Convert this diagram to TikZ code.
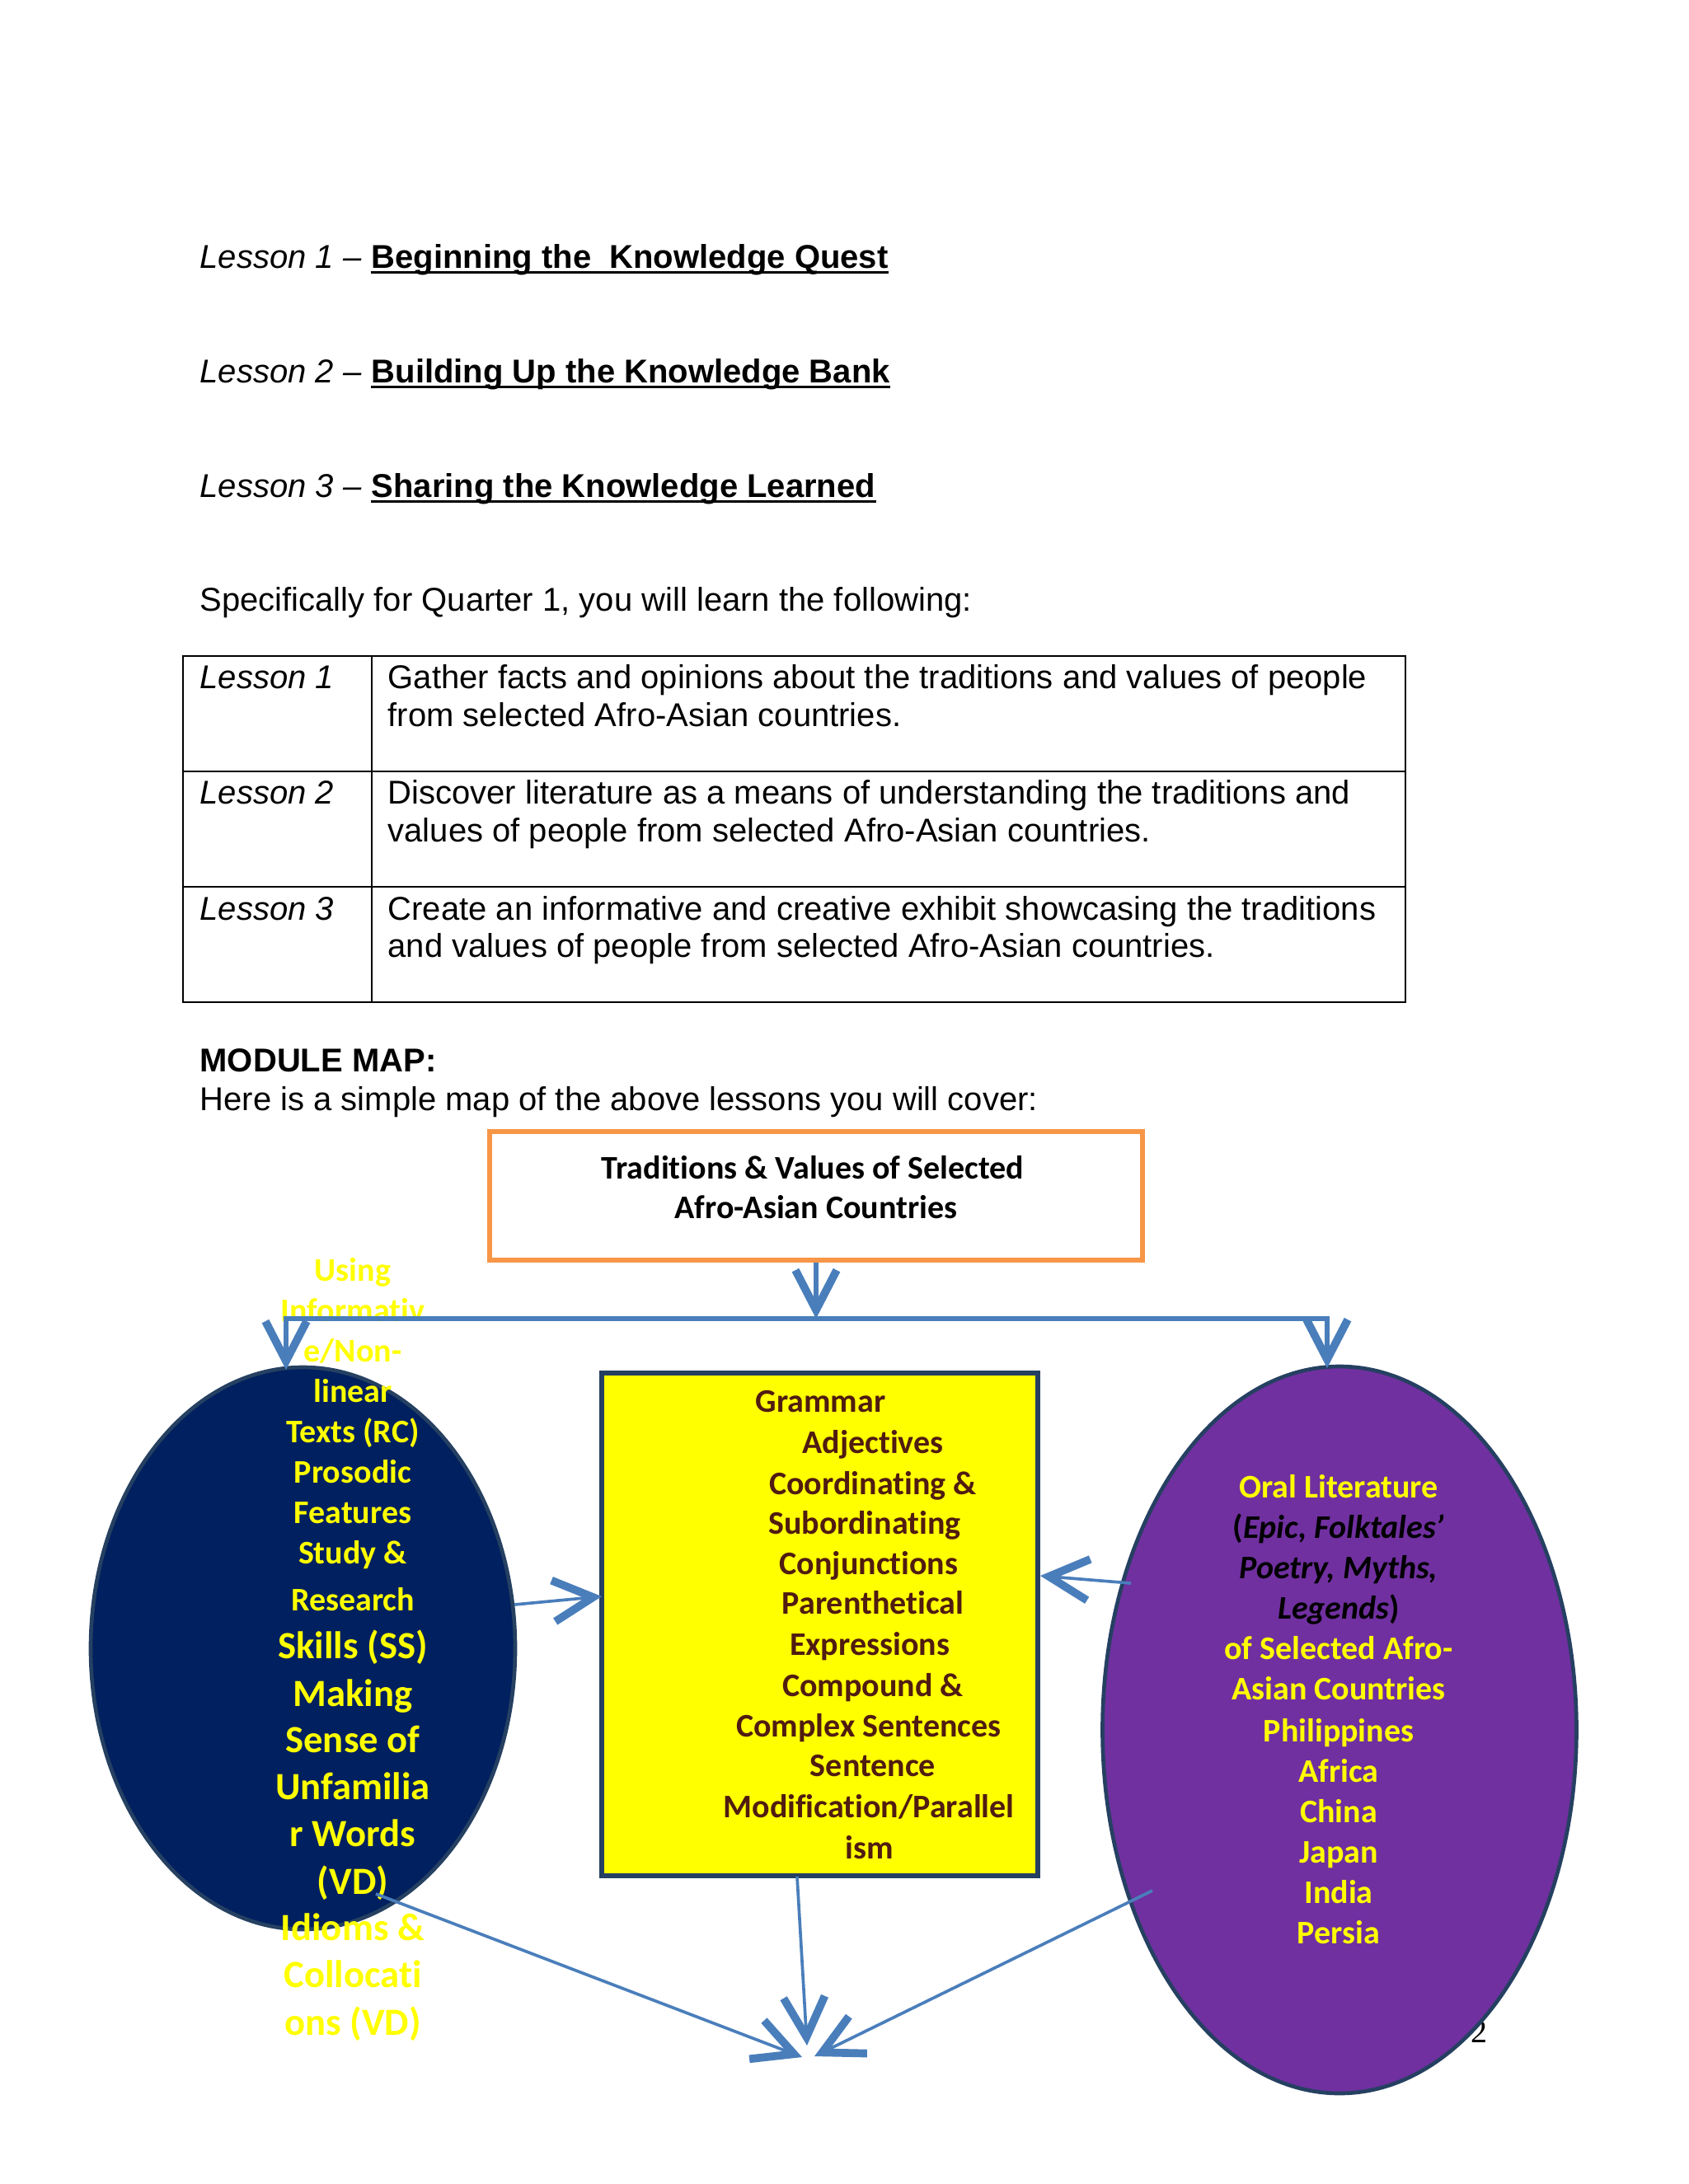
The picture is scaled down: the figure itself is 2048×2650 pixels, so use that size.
\documentclass[tikz,border=0pt]{standalone}
\usepackage{fontspec}
\setmainfont{Liberation Sans}
\newfontfamily\calfont[Ligatures=NoCommon]{Carlito}
\newfontfamily\tnrfont{Liberation Serif}
\usetikzlibrary{shapes.geometric,arrows.meta}
\definecolor{conn}{RGB}{74,126,187}
\definecolor{orng}{RGB}{247,150,70}
\definecolor{navyfill}{RGB}{0,32,96}
\definecolor{bord}{RGB}{37,64,97}
\definecolor{purp}{RGB}{112,48,160}
\definecolor{ylw}{RGB}{255,255,0}
\definecolor{brwn}{RGB}{80,28,16}
\newlength\pxu
\setlength\pxu{0.29993pt}
\begin{document}
\begin{tikzpicture}[x=0.29993pt,y=-0.29993pt,
  ar/.style={font=\fontsize{12}{13.8}\selectfont, inner sep=0, anchor=base west},
  cb/.style={font=\calfont\bfseries\fontsize{12}{14.6}\selectfont, inner sep=0, anchor=base},
  cbig/.style={font=\calfont\bfseries\fontsize{14}{17}\selectfont, inner sep=0, anchor=base},
  tipV/.tip={Straight Barb[length=14.5pt,width=15pt,line width'=2.9pt]},
  arrT/.style={draw=conn, line width=1.6pt, -tipV},
  arr/.style={draw=conn, line width=1.1pt, -tipV}]
\useasboundingbox[fill=white] (0,0) rectangle (2048,2650);

% ---- header lines
\node[ar] (l1) at (242,325) {\itshape Lesson 1 –};
\node[ar] (t1) at (450,325) {\bfseries Beginning the~~Knowledge Quest};
\node[ar] (l2) at (242,464) {\itshape Lesson 2 –};
\node[ar] (t2) at (450,464) {\bfseries Building Up the Knowledge Bank};
\node[ar] (l3) at (242,603) {\itshape Lesson 3 –};
\node[ar] (t3) at (450,603) {\bfseries Sharing the Knowledge Learned};
\foreach \n in {t1,t2,t3}
  \draw[line width=0.7pt] ([yshift=-1.6pt]\n.base west) -- ([yshift=-1.6pt]\n.base east);

\node[ar] (spec) at (242,741) {Specifically for Quarter 1, you will learn the following:};

% ---- table
\draw[line width=0.6pt] (222,796) rectangle (1705,1216);
\draw[line width=0.6pt] (222,936) -- (1705,936) (222,1076) -- (1705,1076) (451,796) -- (451,1216);
\node[ar] (c1) at (242,835) {\itshape Lesson 1};
\node[ar] (d1a) at (470,835) {Gather facts and opinions about the traditions and values of people};
\node[ar] (d1b) at (470,881) {from selected Afro-Asian countries.};
\node[ar] (c2) at (242,975) {\itshape Lesson 2};
\node[ar] (d2a) at (470,975) {Discover literature as a means of understanding the traditions and};
\node[ar] (d2b) at (470,1021) {values of people from selected Afro-Asian countries.};
\node[ar] (c3) at (242,1116) {\itshape Lesson 3};
\node[ar] (d3a) at (470,1116) {Create an informative and creative exhibit showcasing the traditions};
\node[ar] (d3b) at (470,1161) {and values of people from selected Afro-Asian countries.};

\node[ar] (mm) at (242,1300) {\bfseries MODULE MAP:};
\node[ar] (here) at (242,1347) {Here is a simple map of the above lessons you will cover:};

% ---- page number partly hidden
\node[inner sep=0, anchor=base west, font=\tnrfont\fontsize{12}{14}\selectfont] (pg) at (1784,2478) {2};

% ---- shapes
\node[draw=orng, line width=1.8pt, fill=white, inner sep=0, minimum width=792\pxu, minimum height=156\pxu] (ob) at (990,1451) {};
\node[draw=bord, line width=1.8pt, fill=ylw, inner sep=0, minimum width=529\pxu, minimum height=610\pxu] (yb) at (994.5,1971) {};
\node[ellipse, draw=bord, line width=1.4pt, fill=navyfill, inner sep=0, minimum width=515\pxu, minimum height=682\pxu] (le) at (367.5,2000) {};
\node[ellipse, draw=bord, line width=1.4pt, fill=purp, inner sep=0, minimum width=575\pxu, minimum height=882\pxu] (re) at (1625,2099) {};

% ---- orange box text
\node[cb] (o1) at (986,1430) {Traditions \& Values of Selected};
\node[cb] (o2) at (990,1478) {Afro-Asian Countries};

% ---- left ellipse text
\foreach \yy/\tx [count=\i] in {1554/Using, 1603/Informativ, 1652/e\slash Non-, 1701/linear,
   1750/Texts (RC), 1799/Prosodic, 1848/Features, 1897/Study \&, 1954/Research}
  \node[cb, text=ylw] (ls\i) at (428,\yy) {\tx};
\foreach \yy/\tx [count=\i] in {2012/Skills (SS), 2070/Making, 2126/Sense of, 2183/Unfamilia,
   2240/r Words, 2298/(VD), 2354/Idioms \&, 2411/Collocati, 2469/ons (VD)}
  \node[cbig, text=ylw] (lb\i) at (428,\yy) {\tx};

% ---- yellow box text
\node[cb, text=brwn, anchor=base west] (g0) at (916,1713) {Grammar};
\foreach \xx/\yy/\tx [count=\i] in {1059/1763/Adjectives, 1059/1813/Coordinating \&,
   1049/1861/Subordinating, 1054/1910/Conjunctions, 1059/1958/Parenthetical,
   1055/2008/Expressions, 1059/2058/Compound \&, 1054/2107/Complex Sentences,
   1059/2155/Sentence, 1054/2205/Modification\slash Parallel, 1055/2255/ism}
  \node[cb, text=brwn] (g\i) at (\xx,\yy) {\tx};

% ---- right ellipse text
\node[cb, text=ylw] (r1) at (1624,1817) {Oral Literature};
\node[cb, text=black] (r2) at (1624,1866) {(\itshape Epic, Folktales’};
\node[cb, text=black] (r3) at (1624,1915) {\itshape Poetry, Myths,};
\node[cb, text=black] (r4) at (1624,1964) {\itshape Legends\upshape)};
\node[cb, text=ylw] (r5) at (1624,2013) {of Selected Afro-};
\node[cb, text=ylw] (r6) at (1624,2062) {Asian Countries};
\foreach \yy/\tx [count=\i] in {2113/Philippines, 2162/Africa, 2211/China, 2260/Japan, 2309/India, 2358/Persia}
  \node[cb, text=ylw] (rc\i) at (1624,\yy) {\tx};

% ---- connectors
\coordinate (jn) at (990,1600);
\coordinate (ltip) at (347,1662);
\coordinate (rtip) at (1610,1660);
\draw[arrT] (ob.south) -- (jn);
\draw[arrT] (jn) -| (ltip);
\draw[arrT] (jn) -| (rtip);

\coordinate (le1) at (624,1947);
\coordinate (yl) at (730,1937);
\coordinate (re1) at (1372,1921);
\coordinate (yr) at (1262,1912);
\draw[arr] (le1) -- (yl);
\draw[arr] (re1) -- (yr);

\coordinate (le2) at (456,2298);
\coordinate (tipL) at (973,2496);
\coordinate (yb2) at (967,2277);
\coordinate (tipM) at (979,2482);
\coordinate (re2) at (1398,2294);
\coordinate (tipR) at (988,2495);
\draw[arr] (le2) -- (tipL);
\draw[arr] (yb2) -- (tipM);
\draw[arr] (re2) -- (tipR);
\end{tikzpicture}
\end{document}
